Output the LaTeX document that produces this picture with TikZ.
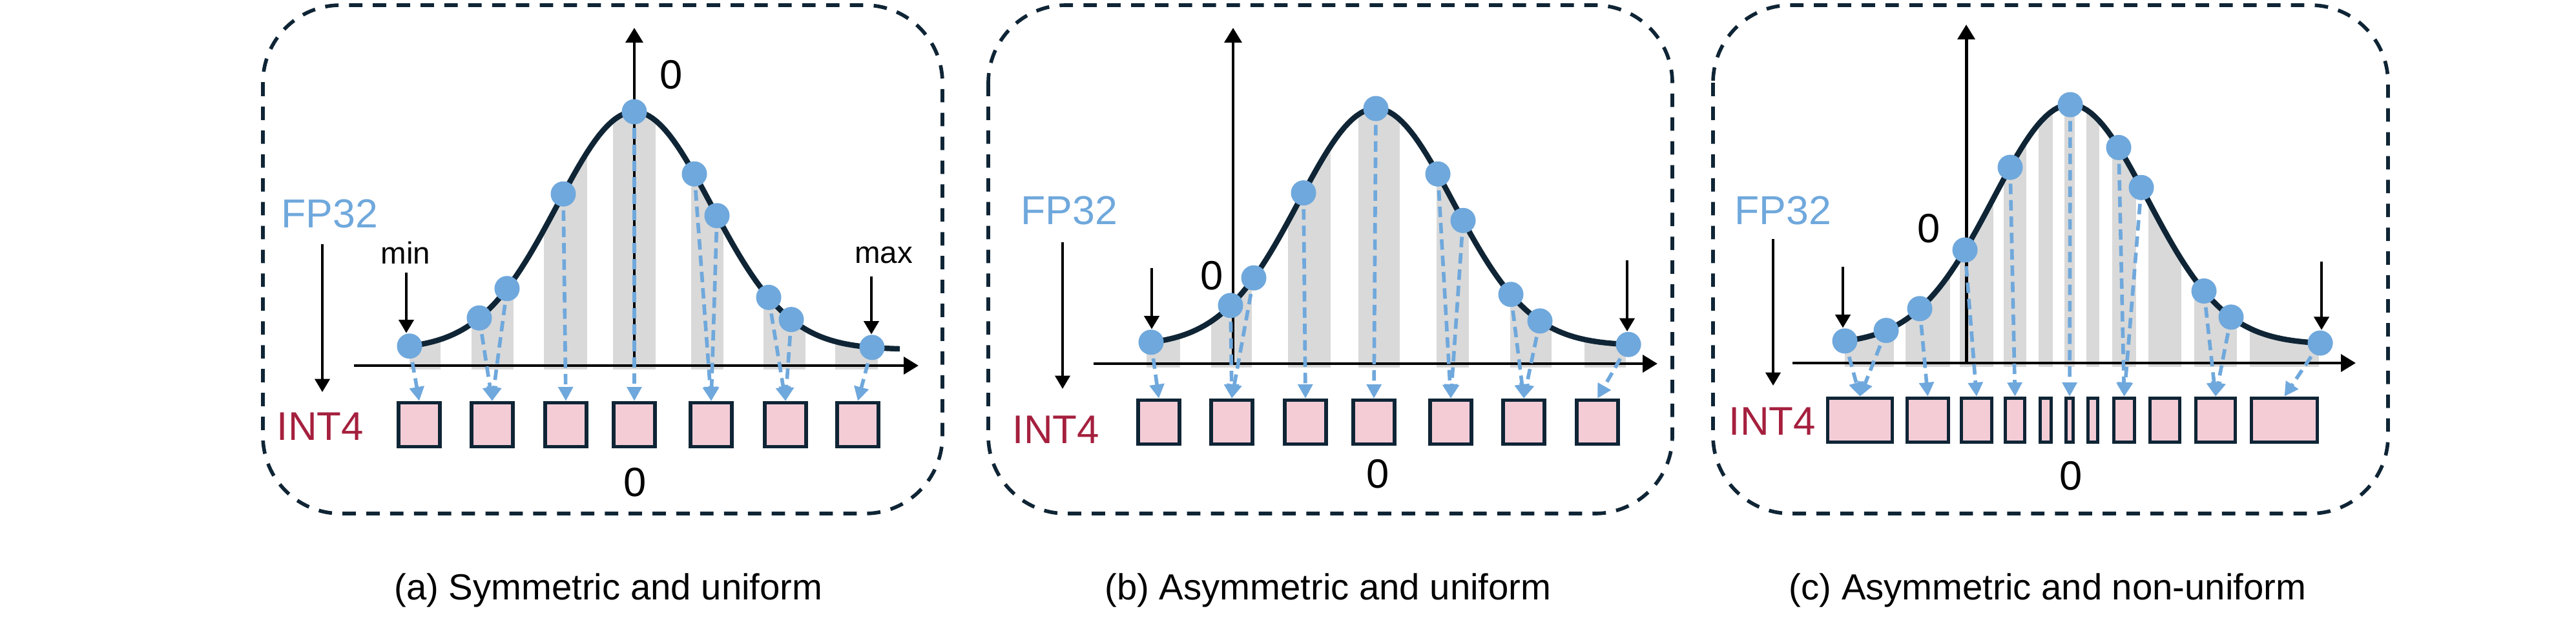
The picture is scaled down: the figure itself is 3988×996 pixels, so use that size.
\documentclass[tikz,border=0pt]{standalone}
\usepackage{fontspec}
\setmainfont{Liberation Sans}
\usetikzlibrary{arrows.meta}
\definecolor{navy}{HTML}{0F2536}
\definecolor{dotblue}{HTML}{6FA8DC}
\definecolor{pinkfill}{HTML}{F3CCD6}
\definecolor{intred}{HTML}{A5203E}
\definecolor{bargray}{HTML}{D9D9D9}
\begin{document}
\begin{tikzpicture}[x=0.01cm,y=-0.01cm,
 declare function={
  fa(\x)=541-368*exp(-((\x-982)/100)*((\x-982)/100)/2.85);
  fb(\x)=535-367*exp(-((\x-2130)/100)*((\x-2130)/100)/2.85);
  fc(\x)=533-371*exp(-((\x-3205)/100)*((\x-3205)/100)/2.85);
 },
 panel/.style={draw=navy, line width=1.6pt, dash pattern=on 5.9pt off 4.6pt, rounded corners=1.2cm},
 curve/.style={draw=navy, line width=2.4pt},
 axis/.style={draw=black, line width=1.4pt, -{Triangle[width=7.5pt,length=6.5pt]}},
 blk/.style={draw=black, line width=1.25pt, -{Triangle[width=6.5pt,length=5.8pt]}},
 qarrow/.style={draw=dotblue, line width=1.6pt, dash pattern=on 4.6pt off 2.6pt, -{Triangle[width=6.3pt,length=6.2pt]}},
 dot/.style={circle, fill=dotblue, inner sep=0pt, minimum size=0.39cm},
 qbox/.style={draw=navy, fill=pinkfill, line width=1.5pt, inner sep=0pt, minimum height=0.68cm},
 zero/.style={font=\fontsize{18}{21}\selectfont, inner sep=0pt, anchor=base},
 fplab/.style={font=\fontsize{17.8}{21}\selectfont, text=dotblue, inner sep=0pt, anchor=base},
 intlab/.style={font=\fontsize{17.6}{21}\selectfont, text=intred, inner sep=0pt, anchor=base},
 mm/.style={font=\fontsize{13.5}{16}\selectfont, inner sep=0pt, anchor=base},
 caption/.style={font=\fontsize{16}{19}\selectfont, inner sep=0pt, anchor=base},
]
\useasboundingbox (0,0) rectangle (3988,996);

% ---------------- panel frames ----------------
\draw[panel] (407,8) rectangle (1459,795);
\draw[panel] (1530,8) rectangle (2589,795);
\draw[panel] (2652,8) rectangle (3697,795);

% ================= PANEL (a) =================
\begin{scope}
 \clip plot[domain=634:1393,samples=120] (\x,{fa(\x)}) -- (1393,572) -- (634,572) -- cycle;
 \foreach \l/\r in {616/682,730/795,842/909,949/1015,1070/1120,1182/1247,1293/1359}
  \fill[bargray] (\l,572) rectangle (\r,100);
\end{scope}
\coordinate (axs) at (548,566);
\coordinate (axe) at (1422,566);
\coordinate (ays) at (982,566);
\coordinate (aye) at (982,43);
\draw[axis] (axs) -- (axe);
\draw[axis] (ays) -- (aye);
\draw[curve] plot[domain=634:1393,samples=120] (\x,{fa(\x)});
\foreach \i/\xx in {1/634,2/742,3/785,4/872,5/982,6/1075,7/1110,8/1190,9/1225,10/1350}
  \coordinate (ap\i) at (\xx,{fa(\xx)});
\foreach \i/\xx in {1/649,2/762,3/876,4/982,5/1101,6/1216,7/1328}
  \node[qbox, minimum width=0.64cm] (ab\i) at (\xx,657.5) {};
\foreach \d/\b in {1/1,2/2,3/2,4/3,5/4,6/5,7/5,8/6,9/6,10/7}
  \draw[qarrow] (ap\d) -- (ab\b.north);
\foreach \i in {1,...,10}
  \node[dot] (a\i) at (ap\i) {};
\node[mm] (amin) at (628,408) {min};
\node[mm] (amax) at (1368,407) {max};
\coordinate (amt) at (629,422);
\coordinate (amxt) at (1349,428);
\draw[blk] (amt) -- (amt |- a1.north);
\draw[blk] (amxt) -- (amxt |- a10.north);
\node[fplab] (afp) at (510,352) {FP32};
\node[intlab] (aint) at (496,681) {INT4};
\coordinate (afs) at (499,378);
\coordinate (afe) at (499,607);
\draw[blk] (afs) -- (afe);
\node[zero] (az1) at (1039,137) {0};
\node[zero] (az2) at (983,768) {0};
\node[caption] (acap) at (942,928) {(a) Symmetric and uniform};

% ================= PANEL (b) =================
\begin{scope}
 \clip plot[domain=1782:2540,samples=120] (\x,{fb(\x)}) -- (2540,569) -- (1775,569) -- (1775,{fb(1782)}) -- cycle;
 \foreach \l/\r in {1775/1827,1875/1938,1994/2060,2103/2167,2224/2274,2338/2402,2453/2517}
  \fill[bargray] (\l,569) rectangle (\r,100);
\end{scope}
\coordinate (bxs) at (1693,563);
\coordinate (bxe) at (2566,563);
\coordinate (bys) at (1909,563);
\coordinate (bye) at (1909,43);
\draw[axis] (bxs) -- (bxe);
\draw[axis] (bys) -- (bye);
\draw[curve] plot[domain=1782:2540,samples=120] (\x,{fb(\x)});
\foreach \i/\xx in {1/1782,2/1905,3/1941,4/2018,5/2130,6/2226,7/2265,8/2339,9/2384,10/2521}
  \coordinate (bp\i) at (\xx,{fb(\xx)});
\foreach \i/\xx in {1/1794,2/1907,3/2021,4/2127,5/2246,6/2359,7/2473}
  \node[qbox, minimum width=0.64cm] (bb\i) at (\xx,653.5) {};
\foreach \d/\b in {1/1,2/2,3/2,4/3,5/4,6/5,7/5,8/6,9/6,10/7}
  \draw[qarrow] (bp\d) -- (bb\b.north);
\foreach \i in {1,...,10}
  \node[dot] (b\i) at (bp\i) {};
\coordinate (bmt) at (1783,415);
\coordinate (bmxt) at (2519,403);
\draw[blk] (bmt) -- (bmt |- b1.north);
\draw[blk] (bmxt) -- (bmxt |- b10.north);
\node[fplab] (bfp) at (1655,347) {FP32};
\node[intlab] (bint) at (1635,686) {INT4};
\coordinate (bfs) at (1645,375);
\coordinate (bfe) at (1645,602);
\draw[blk] (bfs) -- (bfe);
\node[zero] (bz1) at (1876,448) {0};
\node[zero] (bz2) at (2133,755) {0};
\node[caption] (bcap) at (2056,928) {(b) Asymmetric and uniform};

% ================= PANEL (c) =================
\begin{scope}
 \clip plot[domain=2856:3611,samples=120] (\x,{fc(\x)}) -- (3611,568) -- (2856,568) -- cycle;
 \foreach \l/\r in {2827/2932,2950/3019,3034/3086,3102/3137,3156/3178,3196/3212,3230/3250,3270/3307,3326/3377,3397/3463,3483/3590}
  \fill[bargray] (\l,568) rectangle (\r,100);
\end{scope}
\coordinate (cxs) at (2775,562);
\coordinate (cxe) at (3647,562);
\coordinate (cys) at (3044,562);
\coordinate (cye) at (3044,38);
\draw[axis] (cxs) -- (cxe);
\draw[axis] (cys) -- (cye);
\draw[curve] plot[domain=2856:3611,samples=120] (\x,{fc(\x)});
\foreach \i/\xx in {1/2856,2/2920,3/2972,4/3042,5/3112,6/3205,7/3280,8/3315,9/3412,10/3454,11/3592}
  \coordinate (cp\i) at (\xx,{fc(\xx)});
\foreach \i/\xx/\w in {1/2879.5/1.00,2/2984.5/0.64,3/3060/0.47,4/3119.5/0.30,5/3167/0.17,6/3204/0.11,7/3240/0.15,8/3288.5/0.32,9/3351.5/0.46,10/3430/0.61,11/3536.5/1.02}
  \node[qbox, minimum width=\w cm] (cb\i) at (\xx,650.5) {};
\foreach \d/\b in {1/1,2/1,3/2,4/3,5/4,6/6,7/8,8/8,9/10,10/10,11/11}
  \draw[qarrow] (cp\d) -- (cb\b.north);
\foreach \i in {1,...,11}
  \node[dot] (c\i) at (cp\i) {};
\coordinate (cmt) at (2853,413);
\coordinate (cmxt) at (3594,405);
\draw[blk] (cmt) -- (cmt |- c1.north);
\draw[blk] (cmxt) -- (cmxt |- c11.north);
\node[fplab] (cfp) at (2760,347) {FP32};
\node[intlab] (cint) at (2744,673) {INT4};
\coordinate (cfs) at (2745,370);
\coordinate (cfe) at (2745,597);
\draw[blk] (cfs) -- (cfe);
\node[zero] (cz1) at (2986,375) {0};
\node[zero] (cz2) at (3206,758) {0};
\node[caption] (ccap) at (3170,928) {(c) Asymmetric and non-uniform};
\end{tikzpicture}
\end{document}
